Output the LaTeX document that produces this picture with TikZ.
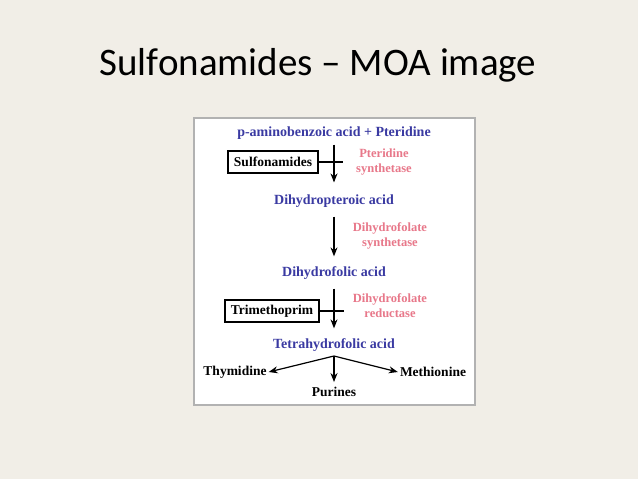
\documentclass[tikz,border=0pt]{standalone}
\usepackage{fontspec}
\setmainfont{Liberation Serif}
\newfontfamily\titlefont[Ligatures=TeX]{Carlito}
\usetikzlibrary{arrows.meta}
\usetikzlibrary{positioning}
\definecolor{slidebg}{HTML}{F1EEE7}
\definecolor{acidblue}{HTML}{3A3AA2}
\definecolor{enzpink}{HTML}{E8788A}

\begin{document}
\begin{tikzpicture}[x=1pt, y=-1pt,
	acid/.style={text=acidblue, font=\bfseries\fontsize{14}{16}\selectfont, inner sep=0pt},
	enzyme/.style={text=enzpink, font=\bfseries\fontsize{12.5}{15}\selectfont, align=center, inner sep=0pt},
	drug/.style={draw=black, line width=1.3pt, font=\bfseries\fontsize{13.5}{16}\selectfont, minimum height=22pt, inner xsep=6pt},
	product/.style={font=\bfseries\fontsize{13.5}{16}\selectfont, inner sep=2pt},
	flow/.style={-{Stealth[length=9pt, width=7pt]}, line width=1.2pt},
	bar/.style={line width=1.2pt}]
	% slide and white panel
	\fill[slidebg] (0,0) rectangle (638,479);
	\useasboundingbox (0,0) rectangle (638,479);
	\draw[draw=gray!60, line width=1.2pt, fill=white] (194,118) rectangle (475,405);
	\node[font=\titlefont\fontsize{39}{44}\selectfont, anchor=base] (title) at (318,75) {Sulfonamides – MOA image};
	% pathway
	\node[acid] (acid1) at (334,133) {p-aminobenzoic acid + Pteridine};
	\node[acid] (acid2) at (334,201) {Dihydropteroic acid};
	\node[acid] (acid3) at (334,273) {Dihydrofolic acid};
	\node[acid] (acid4) at (334,345) {Tetrahydrofolic acid};
	\node[enzyme] (enz1) at (384,162) {Pteridine\\synthetase};
	\node[enzyme] (enz2) at (390,236) {Dihydrofolate\\synthetase};
	\node[enzyme] (enz3) at (390,306) {Dihydrofolate\\reductase};
	\node[drug] (drug1) at (273,162) {Sulfonamides};
	\node[drug] (drug2) at (272,311) {Trimethoprim};
	\coordinate (bar1) at (343,162);
	\coordinate (bar2) at (344,311);
	\coordinate (fork) at (334,356);
	\node[product] (prod1) at (235,372) {Thymidine};
	\node[product] (prod2) at (433,372) {Methionine};
	\node[product] (prod3) at (334,392) {Purines};
	\draw[flow, shorten <=5pt, shorten >=12pt] (acid1) -- (acid2);
	\draw[flow, shorten <=9pt, shorten >=10pt] (acid2) -- (acid3);
	\draw[flow, shorten <=9pt, shorten >=10pt] (acid3) -- (acid4);
	\draw[bar] (drug1) -- (bar1);
	\draw[bar] (drug2) -- (bar2);
	\draw[bar, shorten <=5pt] (acid4) -- (fork);
	\draw[flow] (fork) -- (prod1.east);
	\draw[flow] (fork) -- (prod2.west);
	\draw[flow, shorten >=3pt] (fork) -- (prod3.north);
\end{tikzpicture}
\end{document}
